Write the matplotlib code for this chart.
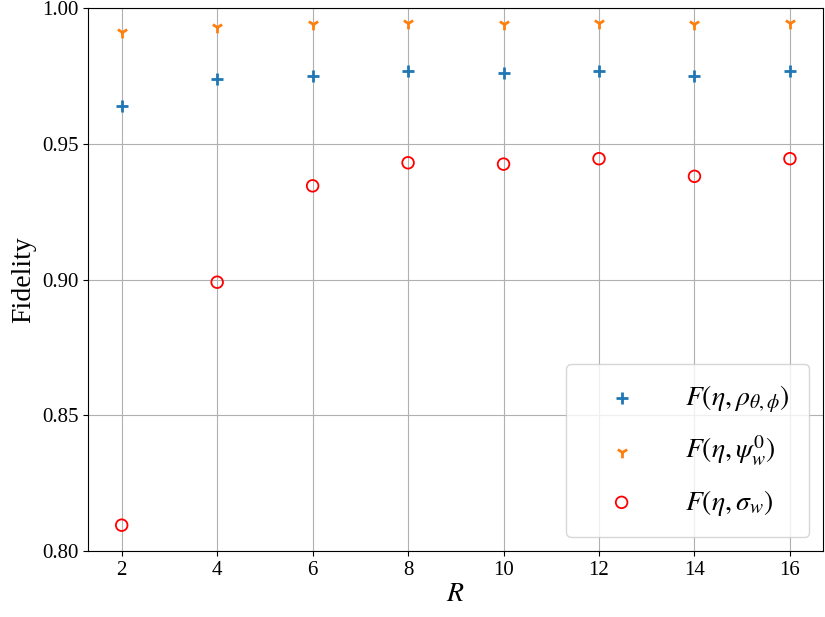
import matplotlib
matplotlib.use("Agg")
import matplotlib.pyplot as plt

plt.rcParams['font.family'] = ['Liberation Serif', 'DejaVu Serif']
plt.rcParams['mathtext.fontset'] = 'stix'

R = [2, 4, 6, 8, 10, 12, 14, 16]
f_rho = [0.964, 0.974, 0.975, 0.9768, 0.976, 0.9768, 0.975, 0.9768]
f_psi = [0.991, 0.993, 0.994, 0.9945, 0.994, 0.9945, 0.994, 0.9945]
f_sigma = [0.8095, 0.899, 0.9345, 0.943, 0.9425, 0.9445, 0.938, 0.9445]

fig, ax = plt.subplots(figsize=(8.25, 6.17), dpi=100)
fig.subplots_adjust(left=0.107, right=0.998, top=0.987, bottom=0.107)
ax.scatter(R, f_rho, marker='+', s=70, linewidths=2, color='#1f77b4', label=r'$F(\eta,\rho_{\theta,\phi})$', zorder=3)
ax.scatter(R, f_psi, marker='1', s=70, linewidths=2, color='#ff7f0e', label=r'$F(\eta,\psi_w^0)$', zorder=3)
ax.scatter(R, f_sigma, marker='o', s=70, facecolors='none', edgecolors='red', linewidths=1.3, label=r'$F(\eta,\sigma_w)$', zorder=3)
ax.set_ylim(0.80, 1.00)
ax.set_xticks(R)
ax.set_yticks([0.80, 0.85, 0.90, 0.95, 1.00])
ax.grid(True, color='#b0b0b0')
ax.set_axisbelow(True)
ax.tick_params(labelsize=15)
ax.set_xlabel(r'$R$', fontsize=20, labelpad=2)
ax.set_ylabel('Fidelity', fontsize=20)
ax.legend(loc='lower right', fontsize=20, borderpad=0.7, labelspacing=0.7,
          handlelength=2.6, handletextpad=1.0)
fig.savefig('out.png')
